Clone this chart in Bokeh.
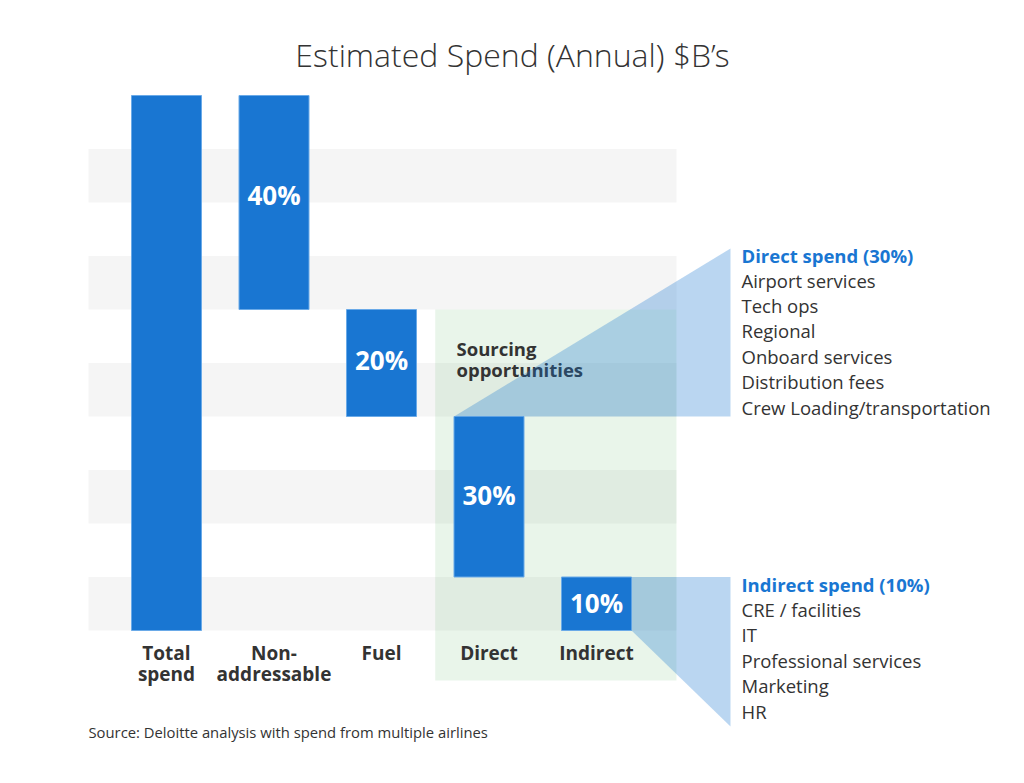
from bokeh.plotting import figure
from bokeh.models import Range1d
from bokeh.core.properties import value
from bokeh.embed import file_html
from bokeh.resources import INLINE

# ---------------- data ----------------
categories = ["Total\nspend", "Non-\naddressable", "Fuel", "Direct", "Indirect"]
shares = [100, 40, 20, 30, 10]
title_text = "Estimated Spend (Annual) $B\u2019s"
direct_header = "Direct spend (30%)"
direct_items = ["Airport services", "Tech ops", "Regional", "Onboard services",
                "Distribution fees", "Crew Loading/transportation"]
indirect_header = "Indirect spend (10%)"
indirect_items = ["CRE / facilities", "IT", "Professional services", "Marketing", "HR"]
band_step = 10
source_text = "Source: Deloitte analysis with spend from multiple airlines"
sourcing_text = ["Sourcing", "opportunities"]

# ---------------- layout ----------------
W, H = 1008, 767
ORIGIN = 0             # page offset of the figure
PX_PER_PCT = 5.35      # vertical scale
PX_PER_CAT = 107.5     # horizontal scale
X0_PX, Y100_PX = 166, 95  # page pixel of category 0 centre / 100% line

def xpx(px):
    return (px - X0_PX) / PX_PER_CAT

def ypx(px):
    return 100 - (px - Y100_PX) / PX_PER_PCT

x_range = Range1d(xpx(ORIGIN), xpx(ORIGIN + W))
y_range = Range1d(ypx(ORIGIN + H), ypx(ORIGIN))

p = figure(width=W, height=H, x_range=x_range, y_range=y_range,
           output_backend="svg", toolbar_location=None, min_border=0,
           x_axis_location=None, y_axis_location=None)
p.grid.visible = False
p.outline_line_color = None
p.background_fill_color = "white"
p.border_fill_color = "white"

BLUE = "#1976D2"
DARK = "#333333"
FONT = value("Open Sans")

def label(x, y, text, size, color=DARK, bold=False, align="left", font=FONT):
    # y given as desired visual centre of capitals (page px); middle baseline
    sz = float(size)
    ys = [ypx(v - 0.08 * sz) for v in (y if isinstance(y, list) else [y])]
    xs_ = x if isinstance(x, list) else [x] * len(ys)
    p.text(x=xs_, y=ys, text=text if isinstance(text, list) else [text],
           text_color=color, text_font=font,
           text_font_style="bold" if bold else "normal",
           text_font_size=f"{size}px", text_align=align, text_baseline="middle")

# waterfall geometry from data
tops, bottoms = [shares[0]], [0]
running = shares[0]
for s in shares[1:]:
    tops.append(running)
    bottoms.append(running - s)
    running -= s
xs = list(range(len(categories)))
bar_w = 70 / PX_PER_CAT

# stripes
stripe_left, stripe_right = xs[0] - 0.7256, xs[-1] + 0.744
b_bottoms = list(range(0, shares[0], 2 * band_step))
p.quad(left=stripe_left, right=stripe_right, bottom=b_bottoms,
       top=[b + band_step for b in b_bottoms], fill_color="#F5F5F5", line_color=None)

# green sourcing region (Direct + Indirect)
green_bottom = ypx(680)
p.quad(left=[xs[3] - 0.5], right=[stripe_right], bottom=[green_bottom], top=[tops[2]],
       fill_color="#4CAF50", fill_alpha=0.12, line_color=None)

# bars
p.vbar(x=xs, width=bar_w, bottom=bottoms, top=tops, fill_color=BLUE,
       line_color="#6AAAE8", line_width=1)

# bar labels
label_shift_px = [-6, -1, 0, 1.5]
lab_x = xs[1:]
lab_y = [(t + b) / 2 for t, b in zip(tops[1:], bottoms[1:])]
p.text(x=lab_x, y=lab_y, y_offset=[v - 2 for v in label_shift_px],
       text=[f"{s}%" for s in shares[1:]], text_color="white",
       text_font=FONT, text_font_style="bold", text_font_size="26px",
       text_align="center", text_baseline="middle")

# category labels
line1 = [c.split("\n")[0] for c in categories]
line2 = [c.split("\n")[1] if "\n" in c else "" for c in categories]
label(xs, [654.5] * len(xs), line1, 19, bold=True, align="center")
label(xs, [675.5] * len(xs), line2, 19, bold=True, align="center")

# sourcing opportunities
label(xpx(456), [349.5, 370], sourcing_text, 18.5, bold=True)

# callout shapes
apex_x = xpx(730)
apex_y = ypx(248)
tri_x = [xs[3] - bar_w / 2, apex_x, apex_x]
tri_y = [tops[3], apex_y, tops[3]]
ind_x = [xs[4] + bar_w / 2, apex_x, apex_x, xs[4] + bar_w / 2]
ind_y = [tops[4], tops[4], ypx(726), bottoms[4]]
p.patches(xs=[tri_x, ind_x], ys=[tri_y, ind_y], fill_color=BLUE, fill_alpha=0.3,
          line_color=None)

# right-hand lists
tx = xpx(741)
label(tx, 256, direct_header, 18.5, color=BLUE, bold=True)
label(tx, [281 + 25.4 * k for k in range(len(direct_items))], direct_items, 18.5)
label(tx, 585, indirect_header, 18.5, color=BLUE, bold=True)
label(tx, [610.5 + 25.4 * k for k in range(len(indirect_items))], indirect_items, 18.5)

# title
label(xpx(512), 57, title_text, 32, align="center",
      font=value("Open Sans Light, Open Sans"))

# source
label(xpx(88), 733, source_text, 14.8)

open("out.html", "w").write(file_html(p, INLINE))
